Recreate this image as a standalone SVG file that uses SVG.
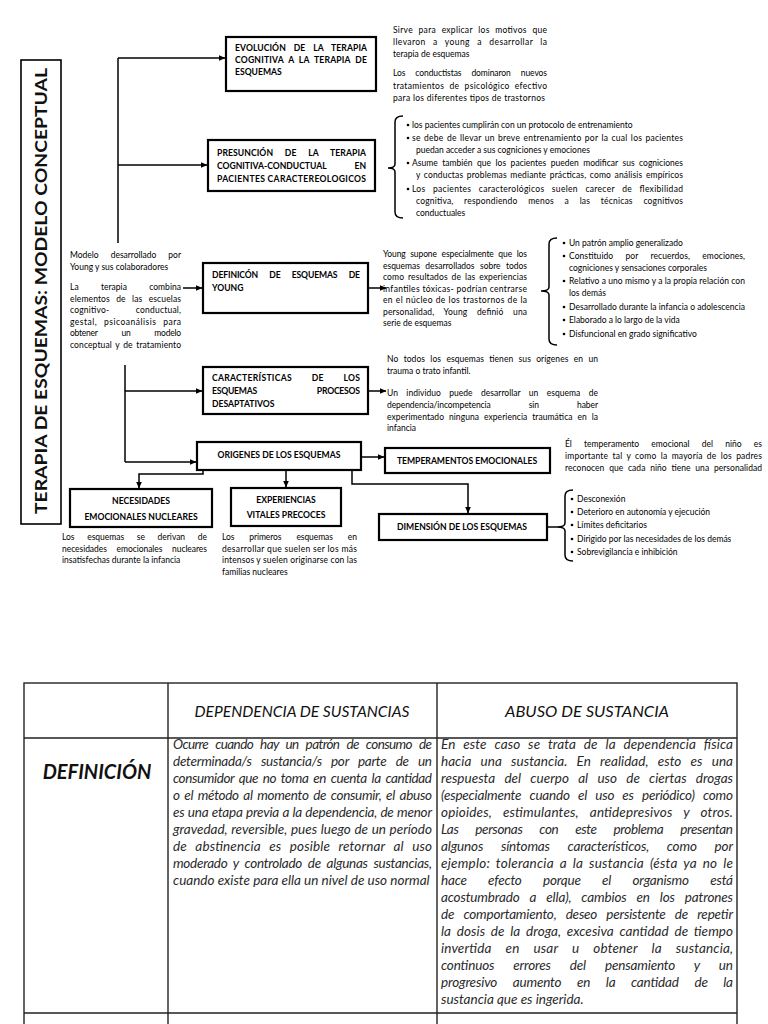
<svg xmlns="http://www.w3.org/2000/svg" width="768" height="1024" viewBox="0 0 768 1024">
<defs>
<marker id="ah" markerWidth="7" markerHeight="6" refX="6.5" refY="3" orient="auto" markerUnits="userSpaceOnUse"><path d="M0,0 L7,3 L0,6 z" fill="#000"/></marker>
</defs>
<style>
.bx{fill:#fff;stroke:#000;stroke-width:1.6}
.bx2{fill:#fff;stroke:#000;stroke-width:2.2}
.c{fill:none;stroke:#000;stroke-width:1.5}
.br{fill:none;stroke:#000;stroke-width:1.5}
.t{font-family:Lato,"Liberation Sans",sans-serif;font-size:8.5px;fill:#000}
.h{font-family:Lato,"Liberation Sans",sans-serif;font-size:8.6px;font-weight:700;fill:#000}
.m{text-anchor:middle}
.dot{fill:#000}
.tb{font-family:Lato,"Liberation Sans",sans-serif;font-style:italic;font-size:13.5px;fill:#2a2a2a}
.th{font-family:Lato,"Liberation Sans",sans-serif;font-style:italic;font-size:14.5px;fill:#111;text-anchor:middle}
.tl{fill:none;stroke:#222;stroke-width:1.4}
</style>
<rect width="768" height="1024" fill="#fff"/>

<g id="title">
<rect x="21" y="60" width="40" height="464" class="bx"/>
<text transform="translate(47,291) rotate(-90)" text-anchor="middle" font-family="Lato,'Liberation Sans',sans-serif" font-weight="700" font-size="17" fill="#111" textLength="446" lengthAdjust="spacingAndGlyphs">TERAPIA DE ESQUEMAS: MODELO CONCEPTUAL</text>
</g>

<g id="connectors">
<path class="c" d="M118,58 V243"/>
<path class="c" d="M118,58 H225" marker-end="url(#ah)"/>
<path class="c" d="M118,165 H207" marker-end="url(#ah)"/>
<path class="c" d="M183,288 H202" marker-end="url(#ah)"/>
<path class="c" d="M368,288 H386" marker-end="url(#ah)"/>
<path class="c" d="M125,365 V462"/>
<path class="c" d="M125,391 H202" marker-end="url(#ah)"/>
<path class="c" d="M125,462 H196" marker-end="url(#ah)"/>
<path class="c" d="M368,391 H386" marker-end="url(#ah)"/>
<path class="c" d="M361,457 H384" marker-end="url(#ah)"/>
<path class="c" d="M203,470 V474 H139 V488" marker-end="url(#ah)"/>
<path class="c" d="M286,470 V487" marker-end="url(#ah)"/>
<path class="c" d="M352,470 V484 H468 V513" marker-end="url(#ah)"/>
<path class="c" d="M547,527 H557"/>
<path class="br" d="M403,116 Q395,116 395,122 V164 Q395,168 388,168 Q395,168 395,172 V212 Q395,218 403,218"/>
<path class="br" d="M557,238 Q549,238 549,244 V287 Q549,291 541,291 Q549,291 549,295 V339 Q549,345 557,345"/>
<path class="br" d="M573,490 Q565,490 565,496 V523 Q565,527 557,527 Q565,527 565,531 V555 Q565,561 573,561"/>
</g>

<g id="n-evolucion">
<rect x="226" y="37" width="150" height="54" class="bx2"/>
<text class="h" x="235" y="51" word-spacing="5.7" textLength="132" lengthAdjust="spacing">EVOLUCIÓN DE LA TERAPIA</text>
<text class="h" x="235" y="63" word-spacing="2.5" textLength="132" lengthAdjust="spacing">COGNITIVA A LA TERAPIA DE</text>
<text class="h" x="235" y="75">ESQUEMAS</text>
</g>

<g id="n-presuncion">
<rect x="208" y="140" width="167" height="51" class="bx2"/>
<text class="h" x="217" y="156" word-spacing="9.6" textLength="149" lengthAdjust="spacing">PRESUNCIÓN DE LA TERAPIA</text>
<text class="h" x="217" y="169" word-spacing="26" textLength="149" lengthAdjust="spacing">COGNITIVA-CONDUCTUAL EN</text>
<text class="h" x="217" y="182" textLength="149" lengthAdjust="spacing">PACIENTES CARACTEREOLOGICOS</text>
</g>

<g id="n-definicion">
<rect x="203" y="263" width="165" height="50" class="bx2"/>
<text class="h" x="212" y="278" word-spacing="9.2" textLength="148" lengthAdjust="spacing">DEFINICÓN DE ESQUEMAS DE</text>
<text class="h" x="212" y="291">YOUNG</text>
</g>

<g id="n-caracteristicas">
<rect x="203" y="367" width="165" height="47" class="bx2"/>
<text class="h" x="212" y="381" word-spacing="17.4" textLength="148" lengthAdjust="spacing">CARACTERÍSTICAS DE LOS</text>
<text class="h" x="212" y="394" word-spacing="58" textLength="148" lengthAdjust="spacing">ESQUEMAS PROCESOS</text>
<text class="h" x="212" y="407">DESAPTATIVOS</text>
</g>

<g id="n-origenes">
<rect x="197" y="442" width="164" height="28" class="bx2"/>
<text class="h m" x="279" y="458">ORIGENES DE LOS ESQUEMAS</text>
</g>

<g id="n-temperamentos">
<rect x="385" y="448" width="165" height="25" class="bx2"/>
<text class="h m" x="467" y="464">TEMPERAMENTOS EMOCIONALES</text>
</g>

<g id="n-necesidades">
<rect x="70" y="489" width="142" height="38" class="bx2"/>
<text class="h m" x="141" y="504">NECESIDADES</text>
<text class="h m" x="141" y="520">EMOCIONALES NUCLEARES</text>
</g>

<g id="n-experiencias">
<rect x="231" y="488" width="110" height="38" class="bx2"/>
<text class="h m" x="286" y="503">EXPERIENCIAS</text>
<text class="h m" x="286" y="518">VITALES PRECOCES</text>
</g>

<g id="n-dimension">
<rect x="379" y="514" width="168" height="26" class="bx2"/>
<text class="h m" x="462" y="530">DIMENSIÓN DE LOS ESQUEMAS</text>
</g>

<g id="txt-evolucion">
<text class="t" x="393" y="33" word-spacing="3.2" textLength="154" lengthAdjust="spacing">Sirve para explicar los motivos que</text>
<text class="t" x="393" y="45" word-spacing="4.8" textLength="154" lengthAdjust="spacing">llevaron a young a desarrollar la</text>
<text class="t" x="393" y="57">terapia de esquemas</text>
<text class="t" x="393" y="76" word-spacing="8" textLength="154" lengthAdjust="spacing">Los conductistas dominaron nuevos</text>
<text class="t" x="393" y="89" word-spacing="2.7" textLength="154" lengthAdjust="spacing">tratamientos de psicológico efectivo</text>
<text class="t" x="393" y="101" textLength="152" lengthAdjust="spacing">para los diferentes tipos de trastornos</text>
</g>

<g id="txt-presuncion">
<circle class="dot" cx="408" cy="125" r="1.3"/>
<circle class="dot" cx="408" cy="138" r="1.3"/>
<circle class="dot" cx="408" cy="163" r="1.3"/>
<circle class="dot" cx="408" cy="189" r="1.3"/>
<text class="t" x="412" y="128">los pacientes cumplirán con un protocolo de entrenamiento</text>
<text class="t" x="412" y="141" word-spacing="0.9" textLength="271" lengthAdjust="spacing">se debe de llevar un breve entrenamiento por la cual los pacientes</text>
<text class="t" x="416" y="153">puedan acceder a sus cogniciones y emociones</text>
<text class="t" x="412" y="166" word-spacing="2.3" textLength="271" lengthAdjust="spacing">Asume también que los pacientes pueden modificar sus cogniciones</text>
<text class="t" x="416" y="178" word-spacing="1.2" textLength="267" lengthAdjust="spacing">y conductas problemas mediante prácticas, como análisis empíricos</text>
<text class="t" x="412" y="192" word-spacing="5" textLength="271" lengthAdjust="spacing">Los pacientes caracterológicos suelen carecer de flexibilidad</text>
<text class="t" x="416" y="204" word-spacing="8.3" textLength="267" lengthAdjust="spacing">cognitiva, respondiendo menos a las técnicas cognitivos</text>
<text class="t" x="416" y="216">conductuales</text>
</g>

<g id="txt-modelo">
<text class="t" x="70" y="258" word-spacing="10" textLength="111" lengthAdjust="spacing">Modelo desarrollado por</text>
<text class="t" x="70" y="270">Young y sus colaboradores</text>
<text class="t" x="70" y="290" word-spacing="20" textLength="111" lengthAdjust="spacing">La terapia combina</text>
<text class="t" x="70" y="301.5" word-spacing="4" textLength="111" lengthAdjust="spacing">elementos de las escuelas</text>
<text class="t" x="70" y="313" word-spacing="24" textLength="111" lengthAdjust="spacing">cognitivo- conductual,</text>
<text class="t" x="70" y="324.5" word-spacing="4" textLength="111" lengthAdjust="spacing">gestal, psicoanálisis para</text>
<text class="t" x="70" y="336" word-spacing="22" textLength="111" lengthAdjust="spacing">obtener un modelo</text>
<text class="t" x="70" y="347.5" word-spacing="1.3" textLength="111" lengthAdjust="spacing">conceptual y de tratamiento</text>
</g>

<g id="txt-young">
<text class="t" x="383" y="257" word-spacing="2.5" textLength="144" lengthAdjust="spacing">Young supone especialmente que los</text>
<text class="t" x="383" y="268.5" word-spacing="3.3" textLength="144" lengthAdjust="spacing">esquemas desarrollados sobre todos</text>
<text class="t" x="383" y="280" word-spacing="1.5" textLength="144" lengthAdjust="spacing">como resultados de las experiencias</text>
<text class="t" x="383" y="291.5" textLength="144" lengthAdjust="spacing">infantiles tóxicas- podrían centrarse</text>
<text class="t" x="383" y="303" word-spacing="0.3" textLength="144" lengthAdjust="spacing">en el núcleo de los trastornos de la</text>
<text class="t" x="383" y="314.5" word-spacing="7.3" textLength="144" lengthAdjust="spacing">personalidad, Young definió una</text>
<text class="t" x="383" y="326">serie de esquemas</text>
</g>

<g id="txt-young-list">
<circle class="dot" cx="564" cy="243" r="1.3"/>
<circle class="dot" cx="564" cy="256" r="1.3"/>
<circle class="dot" cx="564" cy="281" r="1.3"/>
<circle class="dot" cx="564" cy="307" r="1.3"/>
<circle class="dot" cx="564" cy="320" r="1.3"/>
<circle class="dot" cx="564" cy="334" r="1.3"/>
<text class="t" x="569" y="246">Un patrón amplio generalizado</text>
<text class="t" x="569" y="259" word-spacing="10" textLength="176" lengthAdjust="spacing">Constituido por recuerdos, emociones,</text>
<text class="t" x="569" y="271">cogniciones y sensaciones corporales</text>
<text class="t" x="569" y="284" textLength="176" lengthAdjust="spacing">Relativo a uno mismo y a la propia relación con</text>
<text class="t" x="569" y="296">los demás</text>
<text class="t" x="569" y="310" textLength="176" lengthAdjust="spacing">Desarrollado durante la infancia o adolescencia</text>
<text class="t" x="569" y="323">Elaborado a lo largo de la vida</text>
<text class="t" x="569" y="337">Disfuncional en grado significativo</text>
</g>

<g id="txt-caracteristicas">
<text class="t" x="387" y="362" word-spacing="3.1" textLength="211" lengthAdjust="spacing">No todos los esquemas tienen sus orígenes en un</text>
<text class="t" x="387" y="374">trauma o trato infantil.</text>
<text class="t" x="387" y="396" word-spacing="6.2" textLength="211" lengthAdjust="spacing">Un individuo puede desarrollar un esquema de</text>
<text class="t" x="387" y="408" word-spacing="36" textLength="211" lengthAdjust="spacing">dependencia/incompetencia sin haber</text>
<text class="t" x="387" y="419.5" word-spacing="2.6" textLength="211" lengthAdjust="spacing">experimentado ninguna experiencia traumática en la</text>
<text class="t" x="387" y="431">infancia</text>
</g>

<g id="txt-temperamento">
<text class="t" x="565" y="447" word-spacing="10" textLength="197" lengthAdjust="spacing">Él temperamento emocional del niño es</text>
<text class="t" x="565" y="459" word-spacing="1.9" textLength="197" lengthAdjust="spacing">importante tal y como la mayoría de los padres</text>
<text class="t" x="565" y="471" word-spacing="2.5" textLength="197" lengthAdjust="spacing">reconocen que cada niño tiene una personalidad</text>
</g>

<g id="txt-dimension">
<circle class="dot" cx="572" cy="499" r="1.3"/>
<circle class="dot" cx="572" cy="512" r="1.3"/>
<circle class="dot" cx="572" cy="525" r="1.3"/>
<circle class="dot" cx="572" cy="539" r="1.3"/>
<circle class="dot" cx="572" cy="552" r="1.3"/>
<text class="t" x="577" y="502">Desconexión</text>
<text class="t" x="577" y="515">Deterioro en autonomía y ejecución</text>
<text class="t" x="577" y="528">Límites deficitarios</text>
<text class="t" x="577" y="542">Dirigido por las necesidades de los demás</text>
<text class="t" x="577" y="555">Sobrevigilancia e inhibición</text>
</g>

<g id="txt-necesidades">
<text class="t" x="62" y="540" word-spacing="10.5" textLength="145" lengthAdjust="spacing">Los esquemas se derivan de</text>
<text class="t" x="62" y="551.5" word-spacing="7.5" textLength="145" lengthAdjust="spacing">necesidades emocionales nucleares</text>
<text class="t" x="62" y="563">insatisfechas durante la infancia</text>
</g>

<g id="txt-experiencias">
<text class="t" x="222" y="540" word-spacing="13" textLength="135" lengthAdjust="spacing">Los primeros esquemas en</text>
<text class="t" x="222" y="551.5" textLength="135" lengthAdjust="spacing">desarrollar que suelen ser los más</text>
<text class="t" x="222" y="563" textLength="135" lengthAdjust="spacing">intensos y suelen originarse con las</text>
<text class="t" x="222" y="575">familias nucleares</text>
</g>

<g id="table">
<rect x="24" y="683" width="713" height="350" class="tl"/>
<path class="tl" d="M168,683 V1024 M437,683 V1024 M24,738 H737 M24,1013 H737"/>
<text class="th" x="302" y="717" textLength="215" lengthAdjust="spacingAndGlyphs">DEPENDENCIA DE SUSTANCIAS</text>
<text class="th" x="587" y="717" textLength="164" lengthAdjust="spacingAndGlyphs">ABUSO DE SUSTANCIA</text>
<text x="97" y="779" text-anchor="middle" font-family="Lato,'Liberation Sans',sans-serif" font-style="italic" font-weight="700" font-size="20" fill="#111">DEFINICIÓN</text>
<text class="tb" x="173" y="749" word-spacing="4.4" textLength="259" lengthAdjust="spacing">Ocurre cuando hay un patrón de consumo de</text>
<text class="tb" x="173" y="766" word-spacing="6.2" textLength="259" lengthAdjust="spacing">determinada/s sustancia/s por parte de un</text>
<text class="tb" x="173" y="783" word-spacing="2" textLength="259" lengthAdjust="spacing">consumidor que no toma en cuenta la cantidad</text>
<text class="tb" x="173" y="800" word-spacing="1.7" textLength="259" lengthAdjust="spacing">o el método al momento de consumir, el abuso</text>
<text class="tb" x="173" y="817" word-spacing="0.4" textLength="259" lengthAdjust="spacing">es una etapa previa a la dependencia, de menor</text>
<text class="tb" x="173" y="834" word-spacing="0.5" textLength="259" lengthAdjust="spacing">gravedad, reversible, pues luego de un período</text>
<text class="tb" x="173" y="851" word-spacing="5.2" textLength="259" lengthAdjust="spacing">de abstinencia es posible retornar al uso</text>
<text class="tb" x="173" y="868" word-spacing="2.8" textLength="259" lengthAdjust="spacing">moderado y controlado de algunas sustancias,</text>
<text class="tb" x="173" y="885">cuando existe para ella un nivel de uso normal</text>
<text class="tb" x="441" y="749" word-spacing="4.5" textLength="292" lengthAdjust="spacing">En este caso se trata de la dependencia física</text>
<text class="tb" x="441" y="766" word-spacing="6" textLength="292" lengthAdjust="spacing">hacia una sustancia. En realidad, esto es una</text>
<text class="tb" x="441" y="783" word-spacing="6" textLength="292" lengthAdjust="spacing">respuesta del cuerpo al uso de ciertas drogas</text>
<text class="tb" x="441" y="800" word-spacing="5.2" textLength="292" lengthAdjust="spacing">(especialmente cuando el uso es periódico) como</text>
<text class="tb" x="441" y="817" word-spacing="7.7" textLength="292" lengthAdjust="spacing">opioides, estimulantes, antidepresivos y otros.</text>
<text class="tb" x="441" y="834" word-spacing="14" textLength="292" lengthAdjust="spacing">Las personas con este problema presentan</text>
<text class="tb" x="441" y="851" word-spacing="14.7" textLength="292" lengthAdjust="spacing">algunos síntomas característicos, como por</text>
<text class="tb" x="441" y="868" word-spacing="2.5" textLength="292" lengthAdjust="spacing">ejemplo: tolerancia a la sustancia (ésta ya no le</text>
<text class="tb" x="441" y="885" word-spacing="18.4" textLength="292" lengthAdjust="spacing">hace efecto porque el organismo está</text>
<text class="tb" x="441" y="902" word-spacing="7" textLength="292" lengthAdjust="spacing">acostumbrado a ella), cambios en los patrones</text>
<text class="tb" x="441" y="919" word-spacing="6.2" textLength="292" lengthAdjust="spacing">de comportamiento, deseo persistente de repetir</text>
<text class="tb" x="441" y="936" word-spacing="2.5" textLength="292" lengthAdjust="spacing">la dosis de la droga, excesiva cantidad de tiempo</text>
<text class="tb" x="441" y="953" word-spacing="10.7" textLength="292" lengthAdjust="spacing">invertida en usar u obtener la sustancia,</text>
<text class="tb" x="441" y="970" word-spacing="16" textLength="292" lengthAdjust="spacing">continuos errores del pensamiento y un</text>
<text class="tb" x="441" y="987" word-spacing="12.5" textLength="292" lengthAdjust="spacing">progresivo aumento en la cantidad de la</text>
<text class="tb" x="441" y="1004">sustancia que es ingerida.</text>
</g>
</svg>
